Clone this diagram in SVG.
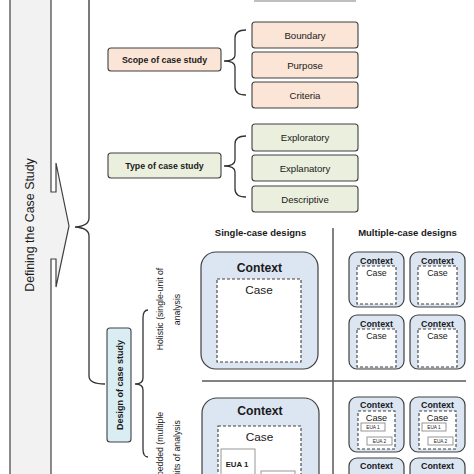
<svg xmlns="http://www.w3.org/2000/svg" width="474" height="474" viewBox="0 0 474 474">
<style>
text{font-family:"Liberation Sans",Arial,sans-serif;fill:#1a1a1a}
.b{font-weight:bold}
.box{stroke:#404040;stroke-width:1.1}
.scope{fill:#fbe5d6}
.type{fill:#ebf0de}
.ctx{fill:#dce6f2;stroke:#404040;stroke-width:1.2}
.dash{fill:#fff;stroke:#404040;stroke-width:1.1;stroke-dasharray:3 2}
.eua{fill:#fff;stroke:#8c8c8c;stroke-width:0.9}
.br{fill:none;stroke:#333;stroke-width:1.3}
.div{stroke:#595959;stroke-width:1.5}
.c{text-anchor:middle;dominant-baseline:central}
</style>
<rect width="474" height="474" fill="#fff"/>
<g id="connectors">
<path class="br" d="M89,-2 V218 Q89,226 75,227 Q89,228 89,236 V376 Q89,384 105,384"/>
<path class="br" d="M246,30 Q235,30 235,38 V55 Q235,61 224,61 Q235,61 235,67 V87 Q235,95 246,95"/>
<path class="br" d="M246,136 Q235,136 235,144 V160 Q235,166 224,166 Q235,166 235,172 V189 Q235,197 246,197"/>
<path class="br" d="M148,310 Q143,310 143,318 V378 Q143,384 135,384 Q143,384 143,390 V449 Q143,457 148,457"/>
<line class="div" x1="333" y1="228" x2="333" y2="476"/>
<line class="div" x1="202" y1="381" x2="466" y2="381"/>
</g>
<g id="defining">
<path d="M10,-2 H51 V192 H56 V163 L69,226 L56,287 V259 H51 V476 H10 Z" fill="#f2f2f2" stroke="#404040" stroke-width="1.2"/>
<text class="c" transform="translate(30,225) rotate(-90)" font-size="12.4">Defining the Case Study</text>
</g>
<g id="top-box"><rect x="254" y="-4" width="102" height="6" fill="#bfbfbf"/></g>
<g id="scope">
<rect class="box scope" x="108" y="48" width="113" height="23" rx="3"/>
<text class="c b" x="164.5" y="60" font-size="8.8">Scope of case study</text>
</g>
<g id="boundary"><rect class="box scope" x="252" y="22" width="106" height="26" rx="3"/><text class="c" x="305" y="35" font-size="9.6">Boundary</text></g>
<g id="purpose"><rect class="box scope" x="252" y="52" width="106" height="26" rx="3"/><text class="c" x="305" y="65" font-size="9.6">Purpose</text></g>
<g id="criteria"><rect class="box scope" x="252" y="82" width="106" height="26" rx="3"/><text class="c" x="305" y="95" font-size="9.6">Criteria</text></g>
<g id="type">
<rect class="box type" x="108" y="153" width="113" height="25" rx="3"/>
<text class="c b" x="164.5" y="165.5" font-size="8.8">Type of case study</text>
</g>
<g id="exploratory"><rect class="box type" x="252" y="124" width="106" height="27" rx="3"/><text class="c" x="305" y="137.5" font-size="9.6">Exploratory</text></g>
<g id="explanatory"><rect class="box type" x="252" y="155" width="106" height="26" rx="3"/><text class="c" x="305" y="168" font-size="9.6">Explanatory</text></g>
<g id="descriptive"><rect class="box type" x="252" y="186" width="106" height="26" rx="3"/><text class="c" x="305" y="199" font-size="9.6">Descriptive</text></g>
<g id="design">
<rect class="box" x="107" y="328" width="24" height="114" rx="3" fill="#daedf3"/>
<text class="c b" transform="translate(119.5,385) rotate(-90)" font-size="9">Design of case study</text>
</g>
<g id="holistic">
<text text-anchor="middle" transform="translate(163,309) rotate(-90)" font-size="8.7">Holistic (single-unit of</text>
<text text-anchor="middle" transform="translate(180,309.5) rotate(-90)" font-size="8.7">analysis</text>
</g>
<g id="embedded">
<text text-anchor="middle" transform="translate(163,450.5) rotate(-90)" font-size="8.7">Embedded (multiple</text>
<text text-anchor="middle" transform="translate(180,451) rotate(-90)" font-size="8.7">units of analysis</text>
</g>
<g id="headers">
<text class="c b" x="260.5" y="232" font-size="9.5">Single-case designs</text>
<text class="c b" x="407.5" y="232" font-size="9.5">Multiple-case designs</text>
</g>
<g id="single-holistic">
<rect class="ctx" x="201" y="252" width="117" height="117" rx="15"/>
<text class="c b" x="259.5" y="268" font-size="12.2">Context</text>
<rect class="dash" x="217" y="279" width="84" height="83"/>
<text class="c" x="259" y="290" font-size="11.8">Case</text>
</g>
<g id="multi-holistic-1">
<rect class="ctx" x="349" y="252" width="55" height="55" rx="8"/>
<text class="c b" x="376.5" y="260.5" font-size="8.9">Context</text>
<rect class="dash" x="357" y="266" width="39" height="38"/>
<text class="c" x="376.5" y="272.5" font-size="8.8">Case</text>
</g>
<g id="multi-holistic-2">
<rect class="ctx" x="410" y="252" width="55" height="55" rx="8"/>
<text class="c b" x="437.5" y="260.5" font-size="8.9">Context</text>
<rect class="dash" x="418" y="266" width="39" height="38"/>
<text class="c" x="437.5" y="272.5" font-size="8.8">Case</text>
</g>
<g id="multi-holistic-3">
<rect class="ctx" x="349" y="315" width="55" height="54" rx="8"/>
<text class="c b" x="376.5" y="323.5" font-size="8.9">Context</text>
<rect class="dash" x="357" y="329" width="39" height="38"/>
<text class="c" x="376.5" y="335.5" font-size="8.8">Case</text>
</g>
<g id="multi-holistic-4">
<rect class="ctx" x="410" y="315" width="55" height="54" rx="8"/>
<text class="c b" x="437.5" y="323.5" font-size="8.9">Context</text>
<rect class="dash" x="418" y="329" width="39" height="38"/>
<text class="c" x="437.5" y="335.5" font-size="8.8">Case</text>
</g>
<g id="single-embedded">
<rect class="ctx" x="202" y="398" width="117" height="117" rx="15"/>
<text class="c b" x="260" y="411" font-size="12.2">Context</text>
<rect class="dash" x="218" y="426" width="83" height="80"/>
<text class="c" x="259.5" y="437" font-size="11.8">Case</text>
<rect class="eua" x="221" y="449" width="34" height="40"/>
<text class="c b" x="237" y="464" font-size="7.8">EUA 1</text>
<rect class="eua" x="261" y="471" width="34" height="30" stroke-width="1.6"/>
</g>
<g id="multi-embedded-1">
<rect class="ctx" x="349" y="397" width="55" height="55" rx="8"/>
<text class="c b" x="376.5" y="405" font-size="8.9">Context</text>
<rect class="dash" x="358" y="411" width="37" height="38"/>
<text class="c" x="376.5" y="417.5" font-size="9.2">Case</text>
<rect class="eua" x="361" y="423" width="24" height="8"/>
<text class="c" x="373" y="427" font-size="4.8">EUA 1</text>
<rect class="eua" x="367" y="437" width="25" height="8"/>
<text class="c" x="379.5" y="441" font-size="4.8">EUA 2</text>
</g>
<g id="multi-embedded-2">
<rect class="ctx" x="410" y="397" width="55" height="55" rx="8"/>
<text class="c b" x="437.5" y="405" font-size="8.9">Context</text>
<rect class="dash" x="419" y="411" width="37" height="38"/>
<text class="c" x="437.5" y="417.5" font-size="9.2">Case</text>
<rect class="eua" x="422" y="423" width="24" height="8"/>
<text class="c" x="434" y="427" font-size="4.8">EUA 1</text>
<rect class="eua" x="428" y="437" width="25" height="8"/>
<text class="c" x="440.5" y="441" font-size="4.8">EUA 2</text>
</g>
<g id="multi-embedded-3">
<rect class="ctx" x="349" y="458" width="55" height="55" rx="8"/>
<text class="c b" x="376.5" y="466" font-size="8.9">Context</text>
</g>
<g id="multi-embedded-4">
<rect class="ctx" x="410" y="458" width="55" height="55" rx="8"/>
<text class="c b" x="437.5" y="466" font-size="8.9">Context</text>
</g>
</svg>
